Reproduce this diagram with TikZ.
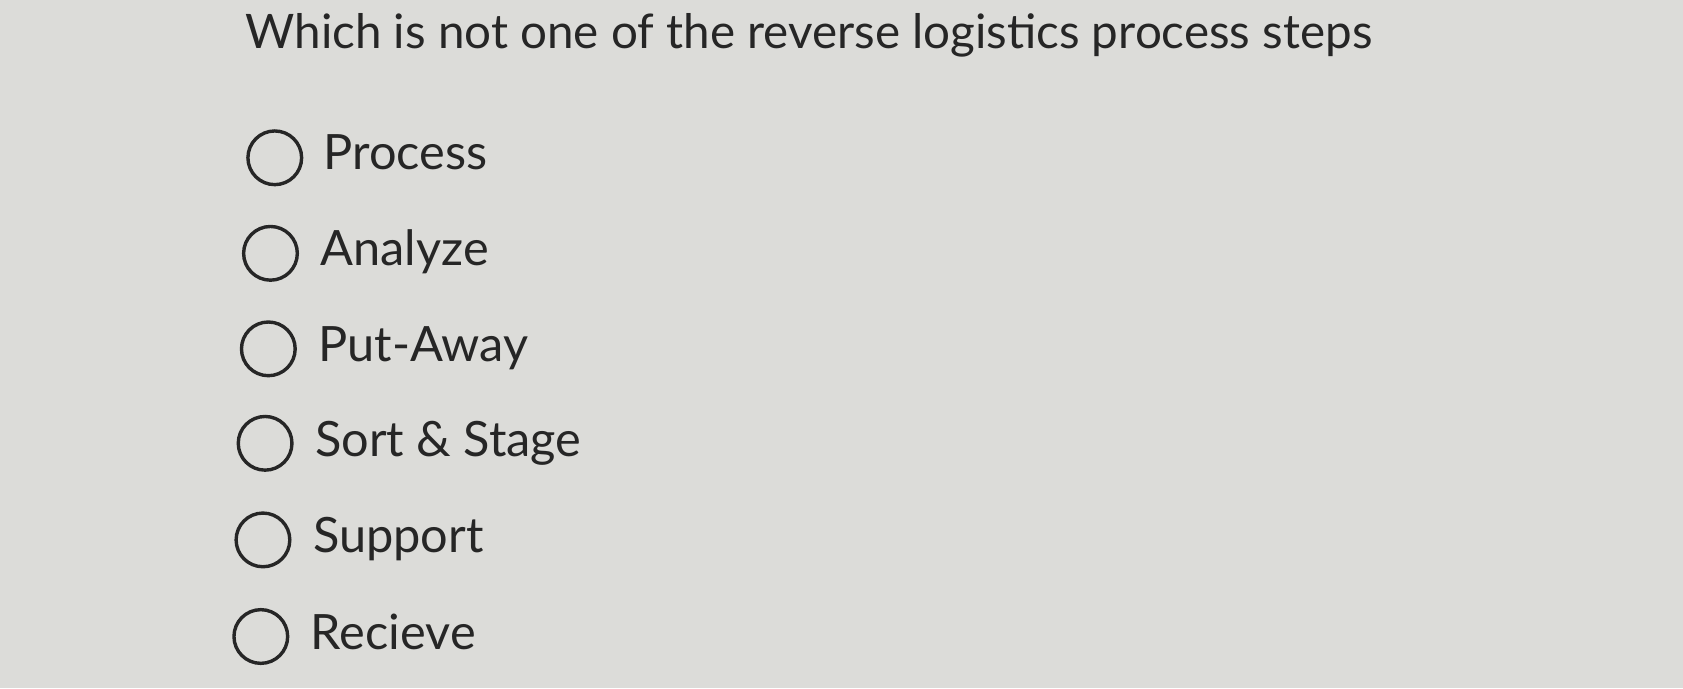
\documentclass[tikz,border=0pt]{standalone}
\usepackage{fontspec}
\setmainfont{Lato}
\definecolor{bg}{HTML}{DCDCD9}
\definecolor{ink}{HTML}{262626}
\begin{document}
\begin{tikzpicture}[x=0.01cm,y=-0.01cm,
  opt/.style={draw=ink,line width=0.9pt,circle,minimum size=0.5cm,inner sep=0pt},
  lab/.style={anchor=base west,inner sep=0pt,text=ink,font=\fontsize{12.9}{15}\selectfont},
  ttl/.style={anchor=base west,inner sep=0pt,text=ink,font=\fontsize{12.6}{15}\selectfont}]
\fill[bg] (0,0) rectangle (1568,641);
\useasboundingbox (0,0) rectangle (1568,641);
\node[ttl] (t) at (228,45) {Which is not one of the reverse logistics process steps};
\foreach \n/\cx/\cy/\tx/\ty/\s in {a/256/147/301/158/Process,b/252/236/298/247/Analyze,c/250/325/296/337/Put-Away,d/247/413/293/425/Sort \& Stage,e/245/503/291/515/Support,f/243/593/289/605/Recieve}{
  \node[opt] (c\n) at (\cx,\cy) {};
  \node[lab] (l\n) at (\tx,\ty) {\s};
}
\end{tikzpicture}
\end{document}
